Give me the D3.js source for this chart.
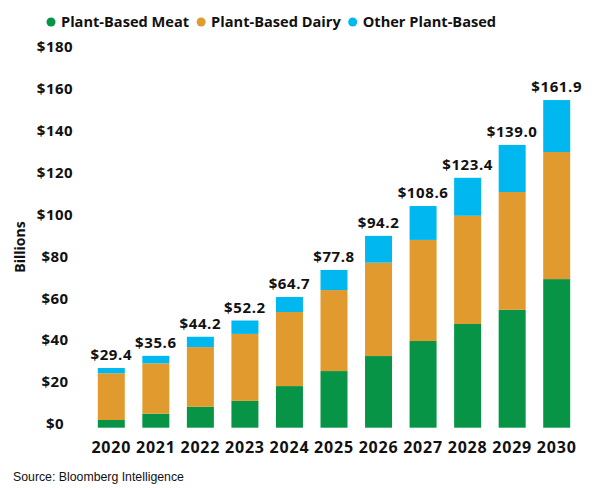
<!DOCTYPE html>
<html>
<head>
<meta charset="utf-8">
<script src="https://cdn.jsdelivr.net/npm/d3@7"></script>
<style>
  body { margin: 0; background: #fff; }
  svg { display: block; }
  text { font-family: "Open Sans", sans-serif; fill: #111; }
</style>
</head>
<body>
<svg id="chart" width="593" height="488"></svg>
<script>
var years = ['2020', '2021', '2022', '2023', '2024', '2025', '2026', '2027', '2028', '2029', '2030'];
var meat = [3.8, 6.9, 10.3, 13.2, 20.5, 27.9, 35.3, 42.7, 51.1, 58.1, 73.2];
var dairy = [23.0, 24.8, 29.4, 33.0, 36.5, 39.9, 46.0, 49.8, 53.3, 58.0, 62.6];
var other = [2.6, 3.7, 5.1, 6.6, 7.4, 9.9, 13.2, 16.7, 18.7, 23.2, 25.6];
var totals = [29.4, 35.6, 44.2, 52.2, 64.7, 77.8, 94.2, 108.6, 123.4, 139.0, 161.9];
var yTicks = [0, 20, 40, 60, 80, 100, 120, 140, 160, 180];
var seriesNames = ['Plant-Based Meat', 'Plant-Based Dairy', 'Other Plant-Based'];
var seriesColors = ['#079447', '#E09A2E', '#00B8EF'];

var svg = d3.select('#chart');

var rows = years.map(function(y, i) {
  return { year: y, meat: meat[i], dairy: dairy[i], other: other[i], total: totals[i] };
});

var x = d3.scaleBand().domain(years).range([97.8, 570.2]).paddingInner(0.394).paddingOuter(0);
// bars and axis labels in the source do not share the same scale
var y = d3.scaleLinear().domain([0, 180]).range([427.7, 62.3]);
var yAxisScale = d3.scaleLinear().domain([0, 180]).range([424, 47]);

var stack = d3.stack().keys(['meat', 'dairy', 'other']);
var layers = stack(rows);

svg.append('g').selectAll('g').data(layers).enter().append('g')
  .attr('fill', function(d, i) { return seriesColors[i]; })
  .selectAll('rect').data(function(d) { return d; }).enter().append('rect')
  .attr('x', function(d) { return x(d.data.year); })
  .attr('y', function(d) { return y(d[1]); })
  .attr('width', x.bandwidth())
  .attr('height', function(d) { return y(d[0]) - y(d[1]); });

// totals above bars
svg.append('g').selectAll('text').data(rows).enter().append('text')
  .attr('x', function(d) { return x(d.year) + x.bandwidth() / 2; })
  .attr('y', function(d) { return y(d.meat + d.dairy + d.other) - 8; })
  .attr('text-anchor', 'middle')
  .style('font-size', '15px').style('font-weight', 700).style('letter-spacing', '0.6px')
  .text(function(d) { return '$' + d.total.toFixed(1); });

// y labels
svg.append('g').selectAll('text').data(yTicks).enter().append('text')
  .attr('x', 55)
  .attr('y', function(d) { return yAxisScale(d); })
  .attr('dy', '0.35em')
  .attr('text-anchor', 'middle')
  .style('font-size', '15px').style('font-weight', 700).style('letter-spacing', '0.5px')
  .text(function(d) { return '$' + d; });

svg.append('text')
  .attr('transform', 'translate(20,247) rotate(-90)')
  .attr('text-anchor', 'middle')
  .attr('dy', '0.35em')
  .style('font-size', '14px').style('font-weight', 700)
  .text('Billions');

// x labels
svg.append('g').selectAll('text').data(years).enter().append('text')
  .attr('x', function(d) { return x(d) + x.bandwidth() / 2; })
  .attr('y', 447)
  .attr('dy', '0.35em')
  .attr('text-anchor', 'middle')
  .style('font-size', '16px').style('font-weight', 700).style('letter-spacing', '0.8px')
  .text(function(d) { return d; });

// legend
var legend = svg.append('g').attr('transform', 'translate(0,22)');
var lx = 51;
seriesNames.forEach(function(name, i) {
  legend.append('circle').attr('cx', lx).attr('cy', 0).attr('r', 4.5).attr('fill', seriesColors[i]);
  var t = legend.append('text')
    .attr('x', lx + 10).attr('y', 0).attr('dy', '0.35em')
    .style('font-size', '14.6px').style('font-weight', 700)
    .text(name);
  lx = lx + 10 + t.node().getComputedTextLength() + 12;
});

svg.append('text')
  .attr('x', 13).attr('y', 477).attr('dy', '0.35em')
  .style('font-family', '"Liberation Sans", Arial, sans-serif')
  .style('font-size', '12.3px')
  .text('Source: Bloomberg Intelligence');
</script>
</body>
</html>
